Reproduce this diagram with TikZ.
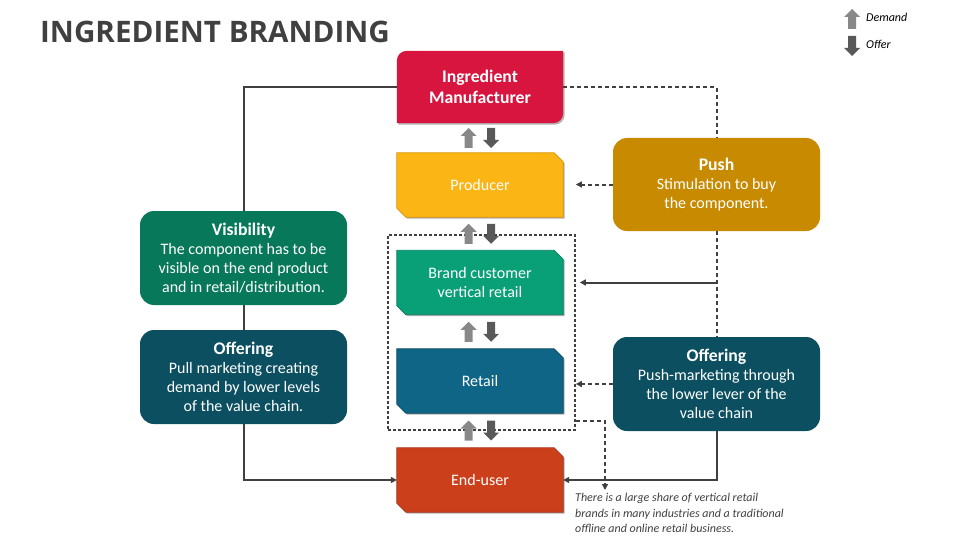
\documentclass[tikz,border=0pt]{standalone}
\usepackage{fontspec}
\setmainfont{Carlito}
\newfontfamily\titlefont{Open Sans}
\usetikzlibrary{arrows.meta,calc,backgrounds,shadows}

\definecolor{txtc}{HTML}{404040}
\definecolor{linec}{HTML}{404040}
\definecolor{imc}{HTML}{D7153F}
\definecolor{imb}{HTML}{B01034}
\definecolor{prodc}{HTML}{FBB514}
\definecolor{prodb}{HTML}{D9940A}
\definecolor{brandc}{HTML}{09A077}
\definecolor{brandb}{HTML}{07805F}
\definecolor{retailc}{HTML}{0E6585}
\definecolor{retailb}{HTML}{0A4B63}
\definecolor{endc}{HTML}{CC3F1B}
\definecolor{endb}{HTML}{A33015}
\definecolor{visc}{HTML}{07795A}
\definecolor{offc}{HTML}{0B4F61}
\definecolor{pushc}{HTML}{C78A00}
\definecolor{demandc}{HTML}{888888}
\definecolor{offerc}{HTML}{595959}

\newcommand{\snippath}[1]{(#1.north west) -- ([xshift=-9pt]#1.north east) -- ([yshift=-9pt]#1.north east) -- (#1.south east) -- ([xshift=9pt]#1.south west) -- ([yshift=9pt]#1.south west) -- cycle}
\newcommand{\boxttl}{\fontsize{17.7}{19}\selectfont\bfseries}

\tikzset{
  colbox/.style={minimum width=166pt, inner sep=0pt, text=white, align=center, font=\fontsize{16}{19}\selectfont},
  sidebox/.style={minimum width=207pt, minimum height=94pt, inner sep=0pt, text=white, align=center,
     rounded corners=14pt, font=\fontsize{16}{19}\selectfont},
  boxshadow/.style={drop shadow={shadow xshift=1.5pt, shadow yshift=-1.5pt, opacity=0.3, fill=black}},
  tip/.style={-{Triangle[length=6pt,width=6pt]}},
  solidline/.style={draw=linec, line width=2pt},
  dashline/.style={draw=linec, line width=2pt, dash pattern=on 4pt off 3pt},
  uparr/.pic={\fill[demandc] (-4,10) -- (-4,-2) -- (-8,-2) -- (0,-10) -- (8,-2) -- (4,-2) -- (4,10) -- cycle;},
  downarr/.pic={\fill[offerc] (-4,-10) -- (-4,2) -- (-8,2) -- (0,10) -- (8,2) -- (4,2) -- (4,-10) -- cycle;}
}

\begin{document}
\begin{tikzpicture}[x=1pt,y=-1pt]
\useasboundingbox (0,0) rectangle (960,540);

% title
\node[anchor=base west, inner sep=0pt, text=txtc, font=\titlefont\fontsize{29.6}{34}\selectfont\bfseries] (title) at (40,43) {INGREDIENT BRANDING};

% legend
\pic at (852,19) {uparr};
\pic at (852,46) {downarr};
\node[anchor=west, inner sep=0pt, text=black, font=\fontsize{12}{14}\selectfont\itshape] (demand) at (866,17) {Demand};
\node[anchor=west, inner sep=0pt, text=black, font=\fontsize{12}{14}\selectfont\itshape] (offer) at (866,44) {Offer};

% central column
\node[colbox, minimum height=72pt, font=\fontsize{17.7}{21}\selectfont\bfseries] (im) at (480,87) {Ingredient\\Manufacturer};
\node[colbox, minimum height=64pt] (prod) at (480,185) {Producer};
\node[colbox, minimum height=64pt] (brand) at (480,282.5) {Brand customer\\vertical retail};
\node[colbox, minimum height=64pt] (retail) at (480,381) {Retail};
\node[colbox, minimum height=64pt] (enduser) at (480,480) {End-user};

% dashed group box
\node[draw=linec, line width=1.6pt, dash pattern=on 3pt off 2pt, minimum width=187pt, minimum height=195pt, inner sep=0pt] (dbox) at (481.5,332.5) {};

% side boxes
\node[sidebox, fill=visc] (vis) at (243.5,258) {{\boxttl Visibility}\\The component has to be\\visible on the end product\\and in retail/distribution.};
\node[sidebox, fill=offc] (offL) at (243.5,377) {{\boxttl Offering}\\Pull marketing creating\\demand by lower levels\\of the value chain.};
\node[sidebox, fill=pushc, minimum height=93pt] (push) at (716.5,184.5) {{\boxttl Push}\\Stimulation to buy\\the component.};
\node[sidebox, fill=offc] (offR) at (716.5,384) {{\boxttl Offering}\\Push-marketing through\\the lower lever of the\\value chain};

% note
\node[anchor=north west, inner sep=0pt, align=left, text=txtc, font=\fontsize{12}{15.5}\selectfont\itshape] (note) at (575,493) {There is a large share of vertical retail\\brands in many industries and a traditional\\offline and online retail business.};

\begin{scope}[on background layer]
  % IM shape: rounded diagonal corners
  \fill[imc, boxshadow] (im.north east) -- ([yshift=10pt]im.south east) arc[start angle=0, end angle=-90, radius=10pt] -- (im.south west) -- ([yshift=-10pt]im.north west) arc[start angle=180, end angle=90, radius=10pt] -- cycle;
  \filldraw[fill=prodc, draw=prodb, line width=0.8pt, boxshadow] \snippath{prod};
  \filldraw[fill=brandc, draw=brandb, line width=0.8pt, boxshadow] \snippath{brand};
  \filldraw[fill=retailc, draw=retailb, line width=0.8pt, boxshadow] \snippath{retail};
  \filldraw[fill=endc, draw=endb, line width=0.8pt, boxshadow] \snippath{enduser};

  % connectors
  \draw[solidline] (im.west) -| (vis.north);
  \draw[solidline] (vis.south) -- (offL.north);
  \draw[solidline, tip] (offL.south) |- (enduser.west);
  \draw[dashline] (im.east) -| (push.north);
  \draw[dashline] (push.south) -- (offR.north);
  \coordinate (j1) at (push.south |- brand.east);
  \draw[solidline, tip, shorten >=4pt] (j1) -- (j1 -| dbox.east);
  \draw[dashline, tip] (push.west) -- (push.west -| dbox.east);
  \draw[dashline, tip] (offR.west) -- (offR.west -| dbox.east);
  \draw[solidline, tip] (offR.south) |- (enduser.east);
  \coordinate (nt) at (605,490);
  \draw[dashline, tip] ([yshift=10pt]dbox.south east) -| (nt);
\end{scope}

% demand / offer arrows between boxes
\foreach \a/\b in {im/prod, prod/brand, brand/retail, retail/enduser}{
  \coordinate (mid) at ($(\a.south)!0.5!(\b.north)$);
  \pic at ([xshift=-11.5pt]mid) {uparr};
  \pic at ([xshift=11pt]mid) {downarr};
}
\end{tikzpicture}
\end{document}
